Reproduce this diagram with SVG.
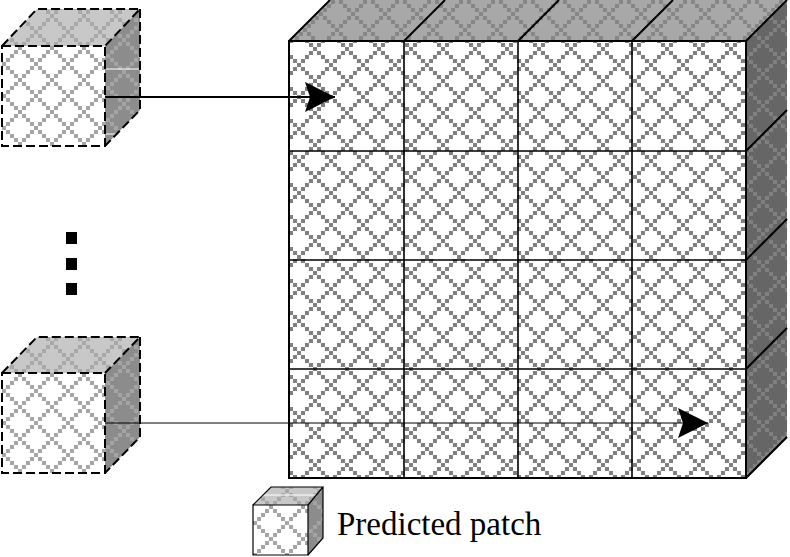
<svg xmlns="http://www.w3.org/2000/svg" xmlns:xlink="http://www.w3.org/1999/xlink" width="790" height="557" viewBox="0 0 790 557">
<style>
.edge{fill:none;stroke:#000;stroke-width:2}
.grid{fill:none;stroke:#000;stroke-width:1.6}
.dash{fill:none;stroke:#000;stroke-width:2;stroke-dasharray:9 4}
.thin{fill:none;stroke:#000;stroke-width:1.2}
.wl{stroke:#fff;stroke-width:1}
.conn{stroke:#000;fill:none}
.lbl{font-family:"Liberation Serif","Times New Roman",serif;font-size:33px;fill:#000}
</style>
<defs>
<path id="dd" d="M0 0h4v4h-4zM4 4h4v4h-4zM4 28h4v4h-4zM8 8h4v4h-4zM8 24h4v4h-4zM12 12h4v4h-4zM12 20h4v4h-4zM16 16h4v4h-4zM20 20h4v4h-4zM20 12h4v4h-4zM24 24h4v4h-4zM24 8h4v4h-4zM28 28h4v4h-4zM28 4h4v4h-4z"/>
<pattern id="pBF" patternUnits="userSpaceOnUse" width="32" height="32" x="313" y="47"><rect width="32" height="32" fill="#fff"/><use xlink:href="#dd" fill="#808080"/></pattern>
<pattern id="pBT" patternUnits="userSpaceOnUse" width="32" height="32" x="511" y="12"><rect width="32" height="32" fill="#a8a8a8"/><use xlink:href="#dd" fill="#868686"/></pattern>
<pattern id="pBS" patternUnits="userSpaceOnUse" width="32" height="32" x="761" y="168"><rect width="32" height="32" fill="#666"/><use xlink:href="#dd" fill="#808080"/></pattern>
<pattern id="pSF" patternUnits="userSpaceOnUse" width="32" height="32" x="0" y="16"><rect width="32" height="32" fill="#fff"/><use xlink:href="#dd" fill="#a6a6a6"/></pattern>
<pattern id="pST" patternUnits="userSpaceOnUse" width="32" height="32" x="16" y="0"><rect width="32" height="32" fill="#c8c8c8"/><use xlink:href="#dd" fill="#a8a8a8"/></pattern>
<pattern id="pSS" patternUnits="userSpaceOnUse" width="32" height="32" x="8" y="8"><rect width="32" height="32" fill="#8c8c8c"/><use xlink:href="#dd" fill="#a4a4a4"/></pattern>
<marker id="ah" markerUnits="userSpaceOnUse" viewBox="0 0 31 30" markerWidth="31" markerHeight="30" refX="30" refY="15" orient="auto"><path d="M0,0 L30,15 L0,30 L5,15 Z" fill="#000"/></marker>
</defs>
<rect width="790" height="557" fill="#fff"/>

<g id="big-cube">
<rect x="289" y="41" width="457" height="437" fill="url(#pBF)"/>
<polygon points="289,41 330,0 787,0 746,41" fill="url(#pBT)"/>
<polygon points="746,41 787,0 787,437 746,478" fill="url(#pBS)"/>
<path class="grid" d="M404 41V478M518 41V478M632 41V478M289 151H746M289 260H746M289 369H746"/>
<path class="edge" d="M289 41H746V478H289Z"/>
<path class="edge" d="M289 41L330 0M404 41L445 0M518 41L559 0M632 41L673 0M746 41L787 0"/>
<path class="edge" d="M746 151L787 110M746 260L787 219M746 369L787 328M746 478L787 437"/>
</g>

<g id="patch-top" transform="translate(2,46)">
<rect x="0" y="0" width="103" height="100" fill="url(#pSF)"/>
<polygon points="0,0 35,-37 138,-37 103,0" fill="url(#pST)"/>
<polygon points="103,0 138,-37 138,64 103,100" fill="url(#pSS)"/>
<line class="wl" x1="104" y1="23" x2="137" y2="23"/>
<line class="wl" x1="104" y1="88" x2="133" y2="88"/>
<path class="dash" d="M0 0H103V100H0Z"/>
<path class="dash" d="M0 0L35 -37H138L103 0M138 -37V64L103 100"/>
</g>

<g id="patch-bottom" transform="translate(2,373)">
<rect x="0" y="0" width="103" height="100" fill="url(#pSF)"/>
<polygon points="0,0 35,-36 138,-36 103,0" fill="url(#pST)"/>
<polygon points="103,0 138,-36 138,64 103,100" fill="url(#pSS)"/>
<path class="dash" d="M0 0H103V100H0Z"/>
<path class="dash" d="M0 0L35 -36H138L103 0M138 -36V64L103 100"/>
</g>

<g id="ellipsis">
<rect x="66" y="232" width="11" height="12" fill="#000"/>
<rect x="66" y="258" width="11" height="12" fill="#000"/>
<rect x="66" y="283" width="11" height="12" fill="#000"/>
</g>

<g id="connectors">
<line class="conn" x1="105" y1="97" x2="335" y2="97" stroke-width="2" marker-end="url(#ah)"/>
<line class="conn" x1="105" y1="423" x2="708" y2="423" stroke-width="1" marker-end="url(#ah)"/>
</g>

<g id="legend">
<g transform="translate(253,505)">
<rect x="0" y="0" width="55" height="50" fill="url(#pSF)"/>
<polygon points="0,0 18,-18 70,-18 55,0" fill="url(#pST)"/>
<polygon points="55,0 70,-18 70,33 55,50" fill="url(#pSS)"/>
<line class="wl" x1="8" y1="-10" x2="63" y2="-10"/>
<path class="thin" d="M0 0H55V50H0Z"/>
<path class="thin" d="M0 0L18 -18H70L55 0M70 -18V33L55 50"/>
</g>
<text class="lbl" x="337" y="535">Predicted patch</text>
</g>
</svg>
